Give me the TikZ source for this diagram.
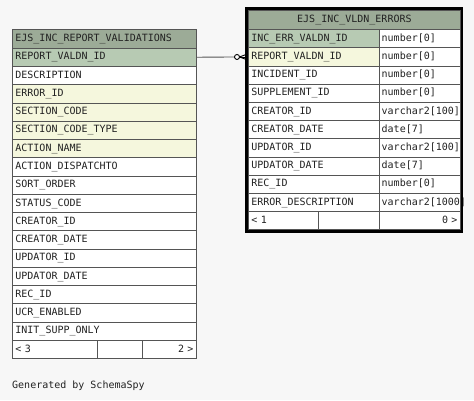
\documentclass[tikz,border=0pt]{standalone}
\usepackage{fontspec}
\setmonofont{DejaVu Sans Mono}
\usetikzlibrary{calc}
\definecolor{bgc}{HTML}{F7F7F7}
\definecolor{hdrc}{HTML}{9CAB97}
\definecolor{pkc}{HTML}{B7CAB3}
\definecolor{fkc}{HTML}{F5F7DD}
\definecolor{linec}{HTML}{555555}
\definecolor{txtc}{HTML}{222222}
\tikzset{
  cell/.style={draw=linec, line width=0.8pt, anchor=north west, inner xsep=3pt, inner ysep=0pt,
    font=\ttfamily\fontsize{10}{11}\selectfont, text=txtc, text height=7.5pt, text depth=2.2pt, align=left},
  lcell/.style={cell, minimum height=18.27pt, text width=178pt, minimum width=184pt},
  rname/.style={cell, minimum height=18.18pt, text width=125.3pt, minimum width=131.3pt},
  rtype/.style={cell, minimum height=18.18pt, inner xsep=2pt, text width=76.7pt, minimum width=80.7pt},
  pk/.style={fill=pkc},
  fk/.style={fill=fkc},
  plain/.style={fill=white},
  hdr/.style={fill=hdrc},
}
\begin{document}
\begin{tikzpicture}[x=1pt,y=-1pt]
\fill[bgc] (0,0) rectangle (474,400);
\useasboundingbox (0,0) rectangle (474,400);
% left table
\node[lcell, hdr, minimum height=19pt] (lh) at (12,28.7) {EJS\_INC\_REPORT\_VALIDATIONS};
\foreach \n/\t/\s [count=\i] in {
  l1/REPORT\_VALDN\_ID/pk, l2/DESCRIPTION/plain, l3/ERROR\_ID/fk, l4/SECTION\_CODE/fk,
  l5/SECTION\_CODE\_TYPE/fk, l6/ACTION\_NAME/fk, l7/ACTION\_DISPATCHTO/plain, l8/SORT\_ORDER/plain,
  l9/STATUS\_CODE/plain, l10/CREATOR\_ID/plain, l11/CREATOR\_DATE/plain, l12/UPDATOR\_ID/plain,
  l13/UPDATOR\_DATE/plain, l14/REC\_ID/plain, l15/UCR\_ENABLED/plain, l16/INIT\_SUPP\_ONLY/plain}
  \node[lcell, \s] (\n) at (12,{47.7+(\i-1)*18.27}) {\t};
\node[cell, plain, minimum height=18.27pt, text width=79.3pt, minimum width=85.3pt] (lf1) at (12,340.0) {< 3};
\node[cell, plain, minimum height=18.27pt, text width=38.4pt, minimum width=44.4pt] (lf2) at (97.3,340.0) {};
\node[cell, plain, minimum height=18.27pt, text width=48.3pt, minimum width=54.3pt, align=right] (lf3) at (141.7,340.0) {2 >};
% right table
\node[cell, hdr, minimum height=19.3pt, text width=206pt, minimum width=212pt, align=center] (rh) at (248,10) {EJS\_INC\_VLDN\_ERRORS};
\foreach \n/\t/\ty/\s [count=\i] in {
  r1/INC\_ERR\_VALDN\_ID/number[0]/pk, r2/REPORT\_VALDN\_ID/number[0]/fk,
  r3/INCIDENT\_ID/number[0]/plain, r4/SUPPLEMENT\_ID/number[0]/plain,
  r5/CREATOR\_ID/varchar2[100]/plain, r6/CREATOR\_DATE/date[7]/plain,
  r7/UPDATOR\_ID/varchar2[100]/plain, r8/UPDATOR\_DATE/date[7]/plain,
  r9/REC\_ID/number[0]/plain, r10/ERROR\_DESCRIPTION/varchar2[1000]/plain} {
  \node[rname, \s] (\n) at (248,{29.3+(\i-1)*18.18}) {\t};
  \node[rtype, plain] (\n t) at (379.3,{29.3+(\i-1)*18.18}) {\ty};
}
\node[cell, plain, minimum height=18.18pt, text width=64.3pt, minimum width=70.3pt] (rf1) at (248,211.1) {< 1};
\node[cell, plain, minimum height=18.18pt, text width=55pt, minimum width=61pt] (rf2) at (318.3,211.1) {};
\node[cell, plain, minimum height=18.18pt, text width=74.7pt, minimum width=80.7pt, align=right] (rf3) at (379.3,211.1) {0 >};
\draw[black, line width=2.6pt] (rh.north west) ++(-1.3,-1.3) rectangle ($(rf3.south east)+(1.3,1.3)$);
% relationship
\coordinate (cend) at (r2.west);
\draw[linec, line width=0.9pt] (l1.east) -- ($(cend)+(-13.5,0)$);
\draw[black, line width=0.9pt] ($(cend)+(-8.5,0)$) -- (cend);
\draw[black, line width=0.9pt] ($(cend)+(-8.5,0)$) -- ($(cend)+(0,-3.2)$);
\draw[black, line width=0.9pt] ($(cend)+(-8.5,0)$) -- ($(cend)+(0,3.2)$);
\draw[black, line width=0.9pt, fill=white] ($(cend)+(-11,0)$) circle (2.5);
% footer text
\node[anchor=base west, inner sep=0pt, font=\ttfamily\fontsize{10}{11}\selectfont, text=txtc] (gen) at (12,388) {Generated by SchemaSpy};
\end{tikzpicture}
\end{document}
